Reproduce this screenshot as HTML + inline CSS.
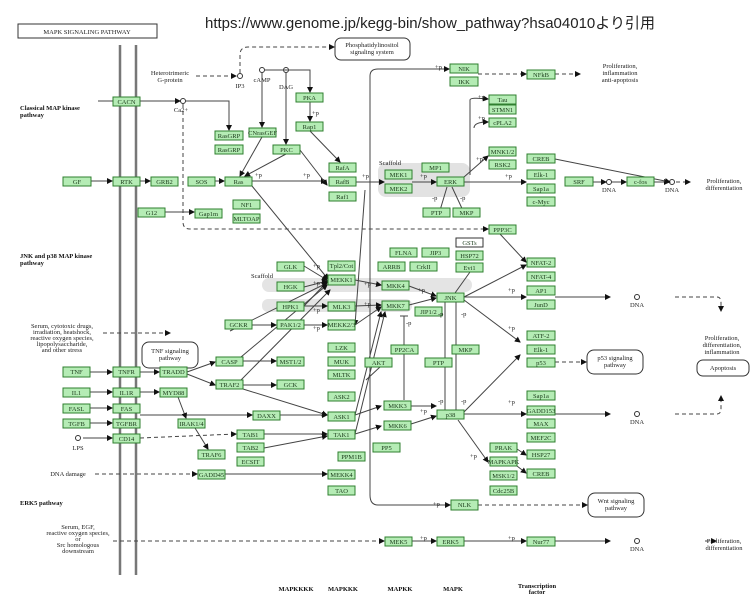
<!DOCTYPE html>
<html><head><meta charset="utf-8"><style>
html,body{margin:0;padding:0;background:#fff;}
svg{display:block}
.b rect{fill:#b5ecb5;stroke:#2f7f2f;stroke-width:1}
.w rect{fill:#fff;stroke:#333;stroke-width:1}
.b text,.w text{font-family:"Liberation Serif",serif;font-size:6.5px;text-anchor:middle;fill:#1a3a1a}
.t{font-family:"Liberation Serif",serif;font-size:6.5px;fill:#222}
.tb{font-family:"Liberation Serif",serif;font-size:6.5px;font-weight:bold;fill:#111}
.c{text-anchor:middle}
.l{stroke:#444;stroke-width:1;fill:none}
.d{stroke:#444;stroke-width:1;fill:none;stroke-dasharray:4 3}
</style></head><body>
<svg width="755" height="613" viewBox="0 0 755 613" xmlns="http://www.w3.org/2000/svg">
<defs><marker id="a" markerWidth="6" markerHeight="6" refX="5" refY="3" orient="auto"><path d="M0,0 L6,3 L0,6z" fill="#111"/></marker></defs>
<text x="205" y="28" font-family="Liberation Sans,'Noto Sans CJK JP',sans-serif" font-size="15" fill="#222">https://www.genome.jp/kegg-bin/show_pathway?hsa04010より引用</text>
<rect x="18" y="24" width="139" height="14" fill="#fff" stroke="#333"/>
<text x="87" y="34" class="t c" font-size="7">MAPK SIGNALING PATHWAY</text>
<line x1="120" y1="45" x2="120" y2="575" stroke="#777" stroke-width="2.5"/>
<line x1="136" y1="45" x2="136" y2="575" stroke="#777" stroke-width="2.5"/>
<rect x="378" y="163" width="92" height="34" rx="8" fill="#e2e2e2"/>
<rect x="262" y="278" width="210" height="14" rx="7" fill="#e4e4e4"/>
<rect x="262" y="299" width="150" height="13" rx="6" fill="#e4e4e4"/>
<text x="20" y="110" class="tb">Classical MAP kinase</text><text x="20" y="117" class="tb">pathway</text>
<text x="20" y="258" class="tb">JNK and p38 MAP kinase</text><text x="20" y="265" class="tb">pathway</text>
<text x="20" y="505" class="tb">ERK5 pathway</text>
<text x="62" y="328" class="t c" font-size="5.5">Serum, cytotoxic drugs,</text>
<text x="62" y="334" class="t c" font-size="5.5">irradiation, heatshock,</text>
<text x="62" y="340" class="t c" font-size="5.5">reactive oxygen species,</text>
<text x="62" y="346" class="t c" font-size="5.5">lipopolysaccharide,</text>
<text x="62" y="352" class="t c" font-size="5.5">and other stress</text>
<text x="78" y="529" class="t c" font-size="5.5">Serum, EGF,</text>
<text x="78" y="535" class="t c" font-size="5.5">reactive oxygen species,</text>
<text x="78" y="541" class="t c" font-size="5.5">or</text>
<text x="78" y="547" class="t c" font-size="5.5">Src homologous</text>
<text x="78" y="553" class="t c" font-size="5.5">downstream</text>
<text x="68" y="476" class="t c" font-size="5.5">DNA damage</text>
<text x="170" y="75" class="t c" font-size="5.5">Heterotrimeric</text><text x="170" y="82" class="t c" font-size="5.5">G-protein</text>
<text x="296" y="591" class="tb c" font-size="5.5">MAPKKKK</text>
<text x="343" y="591" class="tb c" font-size="5.5">MAPKKK</text>
<text x="400" y="591" class="tb c" font-size="5.5">MAPKK</text>
<text x="453" y="591" class="tb c" font-size="5.5">MAPK</text>
<text x="537" y="588" class="tb c" font-size="5.5">Transcription</text><text x="537" y="594" class="tb c" font-size="5.5">factor</text>
<rect x="335" y="38" width="75" height="22" rx="6" fill="#fff" stroke="#333"/>
<text x="372" y="47" class="t c" font-size="5.5">Phosphatidylinositol</text><text x="372" y="54" class="t c" font-size="5.5">signaling system</text>
<rect x="142" y="342" width="56" height="26" rx="7" fill="#fff" stroke="#333"/>
<text x="170" y="353" class="t c" font-size="5.5">TNF signaling</text><text x="170" y="360" class="t c" font-size="5.5">pathway</text>
<rect x="587" y="350" width="56" height="24" rx="7" fill="#fff" stroke="#333"/>
<text x="615" y="360" class="t c" font-size="5.5">p53 signaling</text><text x="615" y="367" class="t c" font-size="5.5">pathway</text>
<rect x="588" y="493" width="56" height="24" rx="7" fill="#fff" stroke="#333"/>
<text x="616" y="503" class="t c" font-size="5.5">Wnt signaling</text><text x="616" y="510" class="t c" font-size="5.5">pathway</text>
<rect x="697" y="360" width="52" height="16" rx="6" fill="#fff" stroke="#333"/>
<text x="723" y="370" class="t c" font-size="5.5">Apoptosis</text>
<text x="620" y="68" class="t c" font-size="5.5">Proliferation,</text><text x="620" y="75" class="t c" font-size="5.5">inflammation</text><text x="620" y="82" class="t c" font-size="5.5">anti-apoptosis</text>
<text x="724" y="183" class="t c" font-size="5.5">Proliferation,</text><text x="724" y="190" class="t c" font-size="5.5">differentiation</text>
<text x="722" y="340" class="t c" font-size="5.5">Proliferation,</text><text x="722" y="347" class="t c" font-size="5.5">differentiation,</text><text x="722" y="354" class="t c" font-size="5.5">inflammation</text>
<text x="724" y="543" class="t c" font-size="5.5">Proliferation,</text><text x="724" y="550" class="t c" font-size="5.5">differentiation</text>
<g fill="#fff" stroke="#333">
<circle cx="240" cy="76" r="2.5"/><circle cx="262" cy="70" r="2.5"/><circle cx="286" cy="70" r="2.5"/><circle cx="183" cy="101" r="2.5"/>
<circle cx="609" cy="182" r="2.5"/><circle cx="672" cy="182" r="2.5"/><circle cx="637" cy="297" r="2.5"/><circle cx="637" cy="414" r="2.5"/><circle cx="637" cy="541" r="2.5"/><circle cx="78" cy="438" r="2.5"/>
</g>
<text x="240" y="88" class="t c" font-size="5.5">IP3</text><text x="262" y="82" class="t c" font-size="5.5">cAMP</text><text x="286" y="89" class="t c" font-size="5.5">DAG</text><text x="181" y="112" class="t c" font-size="5.5">Ca2+</text>
<text x="609" y="192" class="t c" font-size="5.5">DNA</text><text x="672" y="192" class="t c" font-size="5.5">DNA</text><text x="637" y="307" class="t c" font-size="5.5">DNA</text><text x="637" y="424" class="t c" font-size="5.5">DNA</text><text x="637" y="551" class="t c" font-size="5.5">DNA</text><text x="78" y="450" class="t c" font-size="5.5">LPS</text>
<text x="390" y="165" class="t c" font-size="5.5">Scaffold</text><text x="262" y="278" class="t c" font-size="5.5">Scaffold</text>
<g class="l" marker-end="url(#a)">
<path d="M91,181 H112"/><path d="M140,181 H150"/><path d="M215,181 H224"/><path d="M252,181 H326"/>
<path d="M98,101 H180"/><path d="M186,101 H229 V130"/><path d="M265,70 H310 V92"/><path d="M262,73 V127"/><path d="M286,73 V144"/>
<path d="M310,102 V121"/><path d="M310,131 L340,162"/><path d="M286,154 L245,176"/><path d="M262,137 L240,176"/>
<path d="M356,182 H384"/><path d="M412,182 H436"/><path d="M464,182 H526"/><path d="M593,182 H606"/><path d="M612,182 H626"/><path d="M654,182 H669"/>
<path d="M555,159 L670,182"/><path d="M464,177 L488,156"/><path d="M470,175 V100 Q470,97 488,99"/><path d="M474,128 Q474,122 488,122"/>
<path d="M165,212 H194"/><path d="M370,495 V76 Q370,69 378,69 H449"/><path d="M370,495 Q370,505 378,505 H450"/>
<path d="M140,372 H159"/><path d="M140,392 H159"/><path d="M90,372 H112"/><path d="M90,392 H112"/><path d="M90,408 H112"/><path d="M90,423 H112"/><path d="M83,438 H112"/>
<path d="M187,372 L215,362"/><path d="M187,374 L215,385"/><path d="M243,361 H276"/><path d="M243,385 H276"/>
<path d="M140,415 H252"/><path d="M280,415 H327"/><path d="M243,389 L327,415"/><path d="M264,434 H327"/><path d="M264,448 L327,436"/>
<path d="M225,474 H327"/><path d="M178,397 L186,418"/><path d="M195,428 L208,449"/>
<path d="M252,325 H276"/><path d="M304,325 H327"/><path d="M304,306 H327"/><path d="M304,266 L327,280"/><path d="M304,287 L327,281"/><path d="M304,306 L327,282"/>
<path d="M355,280 L381,285"/><path d="M355,306 L381,305"/><path d="M355,325 L381,307"/><path d="M409,286 L436,296"/><path d="M409,305 L436,298"/>
<path d="M464,297 H526"/><path d="M464,297 L526,265"/><path d="M555,297 H610"/><path d="M464,300 L520,342"/>
<path d="M411,406 H436"/><path d="M411,424 L436,416"/><path d="M355,415 L381,406"/><path d="M464,414 H526"/><path d="M555,414 H610"/><path d="M464,412 L520,355"/><path d="M458,420 L488,462"/>
<path d="M412,541 H436"/><path d="M464,541 H526"/><path d="M555,541 H610"/>
<path d="M517,449 L526,455"/><path d="M517,466 L526,473"/>
<path d="M252,186 L328,279"/><path d="M300,150 L327,185"/><path d="M230,331 L327,283"/><path d="M241,357 L327,285"/><path d="M241,380 L330,290"/><path d="M355,415 L381,312"/><path d="M355,434 L385,312"/><path d="M355,434 L381,426"/><path d="M365,190 L355,325"/>
<path d="M500,234 L526,262"/>
</g>
<g class="l">
<path d="M445,302 V410"/><path d="M456,302 V410"/><path d="M442,410 H448"/><path d="M453,410 H459"/>
<path d="M438,217 L447,187"/><path d="M466,217 L452,187"/><path d="M404,316 V400"/><path d="M400,316 H408"/>
<path d="M470,272 L455,293"/><path d="M380,367 L366,380"/>
</g>
<g class="d" marker-end="url(#a)">
<path d="M196,76 H236"/><path d="M240,73 V55 Q240,47 248,47 H334"/><path d="M478,74 H526"/><path d="M555,74 H580"/><path d="M676,182 H690"/>
<path d="M183,104 V222 Q183,229 190,229 H488"/><path d="M103,333 H170"/><path d="M140,438 L236,434"/><path d="M95,474 H197"/><path d="M113,541 H384"/>
<path d="M478,505 H587"/><path d="M555,362 H586"/><path d="M675,297 H717 Q721,297 721,303 V311"/><path d="M675,414 H717 Q721,414 721,408 V396"/><path d="M705,541 H716"/>
</g>
<g class="b">
<rect x="113" y="97" width="27" height="9"/><text x="126.5" y="104">CACN</text>
<rect x="63" y="177" width="28" height="9"/><text x="77" y="184">GF</text>
<rect x="113" y="177" width="27" height="9"/><text x="126.5" y="184">RTK</text>
<rect x="151" y="177" width="27" height="9"/><text x="164.5" y="184">GRB2</text>
<rect x="188" y="177" width="27" height="9"/><text x="201.5" y="184">SOS</text>
<rect x="225" y="177" width="27" height="9"/><text x="238.5" y="184">Ras</text>
<rect x="215" y="131" width="28" height="9"/><text x="229" y="138">RasGRP</text>
<rect x="215" y="145" width="28" height="9"/><text x="229" y="152">RasGRP</text>
<rect x="249" y="128" width="27" height="9"/><text x="262.5" y="135">CNrasGEF</text>
<rect x="273" y="145" width="27" height="9"/><text x="286.5" y="152">PKC</text>
<rect x="296" y="93" width="27" height="9"/><text x="309.5" y="100">PKA</text>
<rect x="296" y="122" width="27" height="9"/><text x="309.5" y="129">Rap1</text>
<rect x="329" y="163" width="27" height="9"/><text x="342.5" y="170">RafA</text>
<rect x="329" y="177" width="27" height="9"/><text x="342.5" y="184">RafB</text>
<rect x="329" y="192" width="27" height="9"/><text x="342.5" y="199">Raf1</text>
<rect x="138" y="208" width="27" height="9"/><text x="151.5" y="215">G12</text>
<rect x="195" y="209" width="27" height="9"/><text x="208.5" y="216">Gap1m</text>
<rect x="233" y="200" width="27" height="9"/><text x="246.5" y="207">NF1</text>
<rect x="233" y="214" width="27" height="9"/><text x="246.5" y="221">MLTOAP</text>
<rect x="450" y="64" width="28" height="9"/><text x="464" y="71">NIK</text>
<rect x="450" y="77" width="28" height="9"/><text x="464" y="84">IKK</text>
<rect x="527" y="70" width="28" height="9"/><text x="541" y="77">NFkB</text>
<rect x="489" y="95" width="27" height="9"/><text x="502.5" y="102">Tau</text>
<rect x="489" y="105" width="27" height="9"/><text x="502.5" y="112">STMN1</text>
<rect x="489" y="118" width="27" height="9"/><text x="502.5" y="125">cPLA2</text>
<rect x="489" y="147" width="27" height="9"/><text x="502.5" y="154">MNK1/2</text>
<rect x="489" y="160" width="27" height="9"/><text x="502.5" y="167">RSK2</text>
<rect x="527" y="154" width="28" height="9"/><text x="541" y="161">CREB</text>
<rect x="527" y="170" width="28" height="9"/><text x="541" y="177">Elk-1</text>
<rect x="527" y="184" width="28" height="9"/><text x="541" y="191">Sap1a</text>
<rect x="527" y="197" width="28" height="9"/><text x="541" y="204">c-Myc</text>
<rect x="565" y="177" width="28" height="9"/><text x="579" y="184">SRF</text>
<rect x="627" y="177" width="27" height="9"/><text x="640.5" y="184">c-fos</text>
<rect x="385" y="170" width="27" height="9"/><text x="398.5" y="177">MEK1</text>
<rect x="385" y="184" width="27" height="9"/><text x="398.5" y="191">MEK2</text>
<rect x="422" y="163" width="27" height="9"/><text x="435.5" y="170">MP1</text>
<rect x="437" y="177" width="27" height="9"/><text x="450.5" y="184">ERK</text>
<rect x="423" y="208" width="27" height="9"/><text x="436.5" y="215">PTP</text>
<rect x="453" y="208" width="27" height="9"/><text x="466.5" y="215">MKP</text>
<rect x="489" y="225" width="27" height="9"/><text x="502.5" y="232">PPP3C</text>
<rect x="277" y="262" width="27" height="9"/><text x="290.5" y="269">GLK</text>
<rect x="277" y="282" width="27" height="9"/><text x="290.5" y="289">HGK</text>
<rect x="277" y="302" width="27" height="9"/><text x="290.5" y="309">HPK1</text>
<rect x="225" y="320" width="27" height="9"/><text x="238.5" y="327">GCKR</text>
<rect x="277" y="320" width="27" height="9"/><text x="290.5" y="327">PAK1/2</text>
<rect x="328" y="261" width="27" height="10"/><text x="341.5" y="268">Tpl2/Cot</text>
<rect x="328" y="275" width="27" height="10"/><text x="341.5" y="282">MEKK1</text>
<rect x="328" y="302" width="27" height="9"/><text x="341.5" y="309">MLK3</text>
<rect x="328" y="320" width="27" height="10"/><text x="341.5" y="327">MEKK2/3</text>
<rect x="63" y="367" width="27" height="10"/><text x="76.5" y="374">TNF</text>
<rect x="113" y="367" width="27" height="10"/><text x="126.5" y="374">TNFR</text>
<rect x="160" y="367" width="27" height="10"/><text x="173.5" y="374">TRADD</text>
<rect x="216" y="357" width="27" height="9"/><text x="229.5" y="364">CASP</text>
<rect x="277" y="357" width="27" height="9"/><text x="290.5" y="364">MST1/2</text>
<rect x="216" y="380" width="27" height="9"/><text x="229.5" y="387">TRAF2</text>
<rect x="277" y="380" width="27" height="9"/><text x="290.5" y="387">GCK</text>
<rect x="63" y="388" width="27" height="9"/><text x="76.5" y="395">IL1</text>
<rect x="113" y="388" width="27" height="9"/><text x="126.5" y="395">IL1R</text>
<rect x="160" y="388" width="27" height="9"/><text x="173.5" y="395">MYD88</text>
<rect x="63" y="404" width="27" height="9"/><text x="76.5" y="411">FASL</text>
<rect x="113" y="404" width="27" height="9"/><text x="126.5" y="411">FAS</text>
<rect x="63" y="419" width="27" height="9"/><text x="76.5" y="426">TGFB</text>
<rect x="113" y="419" width="27" height="9"/><text x="126.5" y="426">TGFBR</text>
<rect x="113" y="434" width="27" height="9"/><text x="126.5" y="441">CD14</text>
<rect x="328" y="343" width="27" height="9"/><text x="341.5" y="350">LZK</text>
<rect x="328" y="357" width="27" height="9"/><text x="341.5" y="364">MUK</text>
<rect x="328" y="370" width="27" height="9"/><text x="341.5" y="377">MLTK</text>
<rect x="328" y="392" width="27" height="9"/><text x="341.5" y="399">ASK2</text>
<rect x="328" y="412" width="27" height="9"/><text x="341.5" y="419">ASK1</text>
<rect x="253" y="411" width="27" height="9"/><text x="266.5" y="418">DAXX</text>
<rect x="178" y="419" width="27" height="9"/><text x="191.5" y="426">IRAK1/4</text>
<rect x="198" y="450" width="27" height="9"/><text x="211.5" y="457">TRAF6</text>
<rect x="237" y="430" width="27" height="9"/><text x="250.5" y="437">TAB1</text>
<rect x="237" y="443" width="27" height="9"/><text x="250.5" y="450">TAB2</text>
<rect x="237" y="457" width="27" height="9"/><text x="250.5" y="464">ECSIT</text>
<rect x="328" y="430" width="27" height="9"/><text x="341.5" y="437">TAK1</text>
<rect x="338" y="452" width="27" height="9"/><text x="351.5" y="459">PPM1B</text>
<rect x="198" y="470" width="27" height="9"/><text x="211.5" y="477">GADD45</text>
<rect x="328" y="470" width="27" height="9"/><text x="341.5" y="477">MEKK4</text>
<rect x="328" y="486" width="27" height="9"/><text x="341.5" y="493">TAO</text>
<rect x="390" y="248" width="27" height="9"/><text x="403.5" y="255">FLNA</text>
<rect x="422" y="248" width="27" height="9"/><text x="435.5" y="255">JIP3</text>
<rect x="378" y="262" width="27" height="9"/><text x="391.5" y="269">ARRB</text>
<rect x="410" y="262" width="27" height="9"/><text x="423.5" y="269">CrkII</text>
<rect x="456" y="251" width="27" height="9"/><text x="469.5" y="258">HSP72</text>
<rect x="456" y="263" width="27" height="9"/><text x="469.5" y="270">Evi1</text>
<rect x="382" y="281" width="27" height="9"/><text x="395.5" y="288">MKK4</text>
<rect x="382" y="301" width="27" height="9"/><text x="395.5" y="308">MKK7</text>
<rect x="415" y="307" width="27" height="9"/><text x="428.5" y="314">JIP1/2</text>
<rect x="437" y="293" width="27" height="9"/><text x="450.5" y="300">JNK</text>
<rect x="527" y="258" width="28" height="9"/><text x="541" y="265">NFAT-2</text>
<rect x="527" y="272" width="28" height="9"/><text x="541" y="279">NFAT-4</text>
<rect x="527" y="286" width="28" height="9"/><text x="541" y="293">AP1</text>
<rect x="527" y="300" width="28" height="9"/><text x="541" y="307">JunD</text>
<rect x="527" y="331" width="28" height="9"/><text x="541" y="338">ATF-2</text>
<rect x="527" y="345" width="28" height="9"/><text x="541" y="352">Elk-1</text>
<rect x="527" y="358" width="28" height="9"/><text x="541" y="365">p53</text>
<rect x="391" y="345" width="27" height="9"/><text x="404.5" y="352">PP2CA</text>
<rect x="452" y="345" width="27" height="9"/><text x="465.5" y="352">MKP</text>
<rect x="425" y="358" width="27" height="9"/><text x="438.5" y="365">PTP</text>
<rect x="365" y="358" width="27" height="9"/><text x="378.5" y="365">AKT</text>
<rect x="384" y="401" width="27" height="9"/><text x="397.5" y="408">MKK3</text>
<rect x="384" y="421" width="27" height="9"/><text x="397.5" y="428">MKK6</text>
<rect x="373" y="443" width="27" height="9"/><text x="386.5" y="450">PP5</text>
<rect x="437" y="410" width="27" height="9"/><text x="450.5" y="417">p38</text>
<rect x="527" y="391" width="28" height="9"/><text x="541" y="398">Sap1a</text>
<rect x="527" y="406" width="28" height="9"/><text x="541" y="413">GADD153</text>
<rect x="527" y="419" width="28" height="9"/><text x="541" y="426">MAX</text>
<rect x="527" y="433" width="28" height="9"/><text x="541" y="440">MEF2C</text>
<rect x="490" y="443" width="27" height="9"/><text x="503.5" y="450">PRAK</text>
<rect x="490" y="457" width="27" height="9"/><text x="503.5" y="464">MAPKAPK</text>
<rect x="490" y="471" width="27" height="9"/><text x="503.5" y="478">MSK1/2</text>
<rect x="490" y="486" width="27" height="9"/><text x="503.5" y="493">Cdc25B</text>
<rect x="527" y="450" width="28" height="9"/><text x="541" y="457">HSP27</text>
<rect x="527" y="469" width="28" height="9"/><text x="541" y="476">CREB</text>
<rect x="451" y="500" width="27" height="10"/><text x="464.5" y="507">NLK</text>
<rect x="385" y="537" width="27" height="9"/><text x="398.5" y="544">MEK5</text>
<rect x="437" y="537" width="27" height="9"/><text x="450.5" y="544">ERK5</text>
<rect x="527" y="537" width="28" height="9"/><text x="541" y="544">Nur77</text>
</g>
<g class="w"><rect x="456" y="238" width="27" height="9"/><text x="469.5" y="245">GSTs</text></g>
<g class="t" font-size="5.5">
<text x="255" y="177">+p</text><text x="303" y="177">+p</text><text x="362" y="178">+p</text><text x="420" y="178">+p</text><text x="505" y="178">+p</text><text x="312" y="115">+p</text>
<text x="435" y="69">+p</text><text x="478" y="99">+p</text><text x="478" y="120">+p</text><text x="476" y="161">+p</text><text x="313" y="268">+p</text><text x="313" y="285">+p</text><text x="313" y="312">+p</text><text x="313" y="330">+p</text>
<text x="364" y="286">+p</text><text x="364" y="306">+p</text><text x="418" y="292">+p</text><text x="508" y="292">+p</text><text x="508" y="330">+p</text><text x="508" y="404">+p</text><text x="420" y="413">+p</text><text x="470" y="458">+p</text><text x="433" y="506">+p</text><text x="420" y="540">+p</text><text x="508" y="540">+p</text>
<text x="432" y="200">-p</text><text x="460" y="200">-p</text><text x="438" y="316">-p</text><text x="461" y="316">-p</text><text x="438" y="403">-p</text><text x="461" y="403">-p</text><text x="406" y="325">-p</text>
</g>
</svg>
</body></html>
